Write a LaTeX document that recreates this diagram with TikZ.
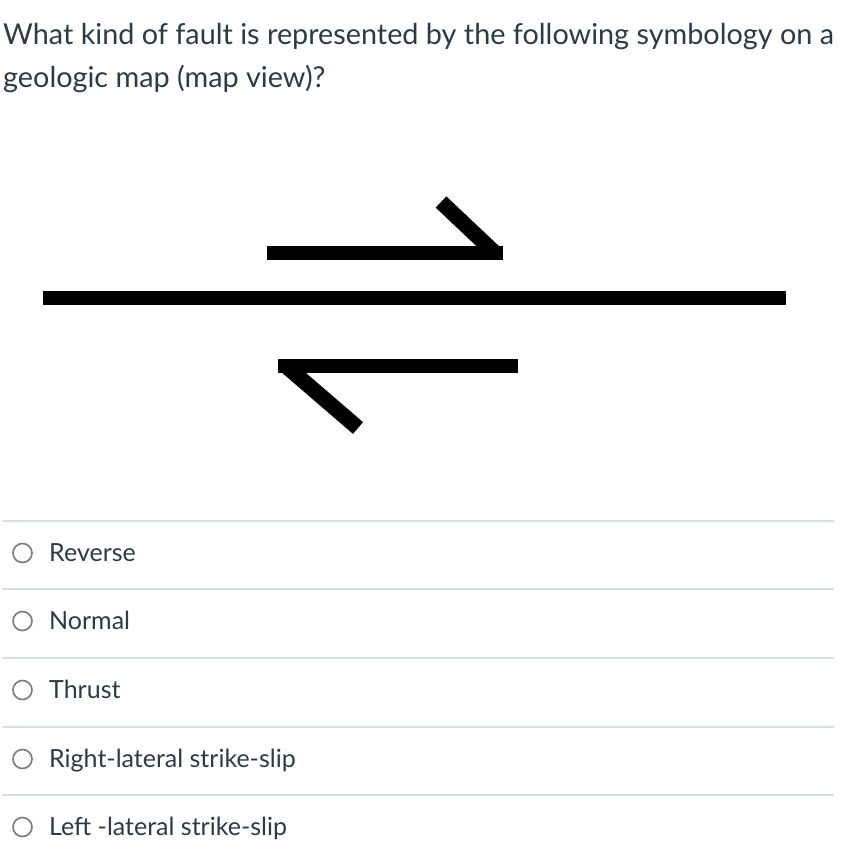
\documentclass[tikz,border=0pt]{standalone}
\usepackage{fontspec}
\setmainfont{Lato}
\usepackage{tikz}
\definecolor{quiztext}{HTML}{2D3B45}
\definecolor{quizrule}{HTML}{DADDE0}
\definecolor{quizradio}{HTML}{7A7A7A}
\tikzset{
	answer/.style={anchor=base west, inner sep=0pt, text=quiztext, font=\fontsize{25}{29}\selectfont},
	radio/.style={circle, draw=quizradio, line width=1.6pt, minimum size=19pt, inner sep=0pt},
	faultbar/.style={line width=14pt, line cap=rect, color=black},
	barb/.style={line width=15.5pt, line cap=butt, color=black}
}

\begin{document}
\begin{tikzpicture}[x=1pt, y=-1pt]
		%%%%% START %%%%%
		\useasboundingbox[fill=white] (0, 0) rectangle (852, 852);
		
		\node[anchor=base west, inner sep=0pt, align=left, text=quiztext, font=\fontsize{28.8}{43}\selectfont] (question) at (3, 87)
			{What kind of fault is represented by the following symbology on a\\geologic map (map view)?};
		
		% fault trace
		\draw[line width=14pt, color=black] (43, 298) -- (786, 298);
		
		% upper half-arrow
		\draw[faultbar] (274, 253) -- (496, 253);
		\draw[barb] (495, 253) -- (441, 202);
		
		% lower half-arrow
		\draw[faultbar] (511, 366) -- (285, 366);
		\draw[barb] (286, 366) -- (358, 428);
		
		% answers
		\foreach \y/\name/\txt in {561/rev/Reverse, 629/nor/Normal, 698/thr/Thrust, 767/rls/Right-lateral strike-slip, 835/lls/Left -lateral strike-slip}{
			\draw[line width=1.4pt, color=quizrule] (2, \y-40) -- (834, \y-40);
			\node[radio] (\name-btn) at (22.5, \y-8) {};
			\node[answer] (\name) at (49, \y) {\txt};
		}
		
		%%%%% END %%%%%
	\end{tikzpicture}
\end{document}
